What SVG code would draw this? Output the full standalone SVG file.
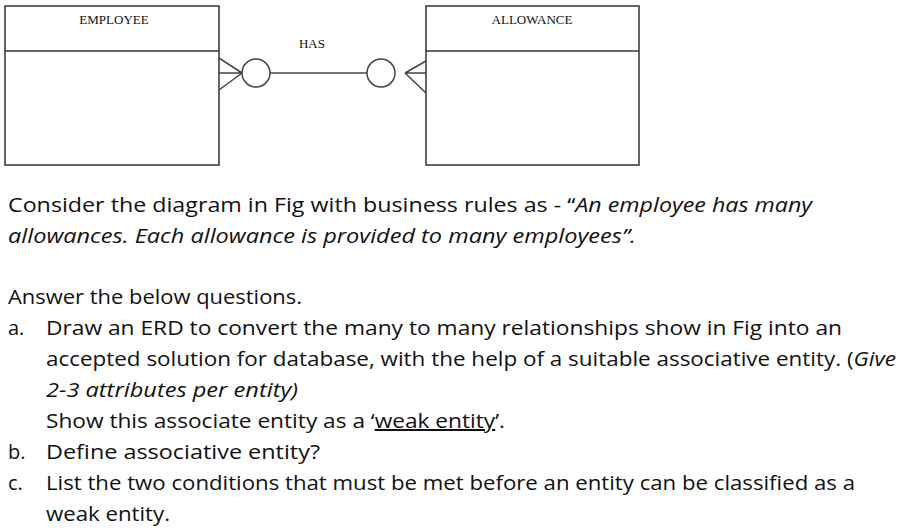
<svg xmlns="http://www.w3.org/2000/svg" width="900" height="531" viewBox="0 0 900 531">
<style>
.b{fill:none;stroke:#333;stroke-width:1.5}
.l{stroke:#444;stroke-width:1.5;fill:none}
.s{font-family:"Liberation Serif",serif;font-size:13px;fill:#111}
.t{font-family:"Open Sans","DejaVu Sans",sans-serif;font-size:20px;fill:#111}
.i{font-style:italic}
</style>
<rect width="900" height="531" fill="#fff"/>
<g id="employee"><rect class="b" x="5" y="6" width="214" height="159"/><line class="b" x1="5" y1="51" x2="219" y2="51"/><text class="s" x="114" y="24" text-anchor="middle">EMPLOYEE</text></g>
<g id="allowance"><rect class="b" x="426" y="6" width="213" height="159"/><line class="b" x1="426" y1="51" x2="639" y2="51"/><text class="s" x="532" y="24" text-anchor="middle">ALLOWANCE</text></g>
<g id="connectors">
<path class="l" d="M219 58L242 73M219 73H242M219 90L242 73"/>
<circle class="l" cx="256" cy="73" r="14"/>
<line class="l" x1="270" y1="73" x2="367" y2="73"/>
<circle class="l" cx="381" cy="73" r="14"/>
<path class="l" d="M426 61L405 73M426 73H405M426 93L405 73"/>
<text class="s" x="312" y="48" text-anchor="middle">HAS</text>
</g>
<g class="t">
<text x="8" y="212" textLength="804" lengthAdjust="spacingAndGlyphs">Consider the diagram in Fig    with business rules as - “<tspan class="i">An employee has many</tspan></text>
<text x="8" y="243" class="i" textLength="628" lengthAdjust="spacingAndGlyphs">allowances. Each allowance is provided to many employees”.</text>
<text x="8" y="304" textLength="294" lengthAdjust="spacingAndGlyphs">Answer the below questions.</text>
<text x="8" y="335">a.</text>
<text x="46" y="335" textLength="796" lengthAdjust="spacingAndGlyphs">Draw an ERD to convert the many to many relationships show in Fig    into an</text>
<text x="46" y="366" textLength="850" lengthAdjust="spacingAndGlyphs">accepted solution for database, with the help of a suitable associative entity. (<tspan class="i">Give</tspan></text>
<text x="46" y="397" class="i" textLength="252" lengthAdjust="spacingAndGlyphs">2-3 attributes per entity)</text>
<text x="46" y="428" textLength="459" lengthAdjust="spacingAndGlyphs">Show this associate entity as a ‘<tspan text-decoration="underline">weak entity</tspan>’.</text>
<text x="8" y="459">b.</text>
<text x="46" y="459" textLength="274" lengthAdjust="spacingAndGlyphs">Define associative entity?</text>
<text x="8" y="490">c.</text>
<text x="46" y="490" textLength="809" lengthAdjust="spacingAndGlyphs">List the two conditions that must be met before an entity can be classified as a</text>
<text x="46" y="521" textLength="124" lengthAdjust="spacingAndGlyphs">weak entity.</text>
</g>
</svg>
